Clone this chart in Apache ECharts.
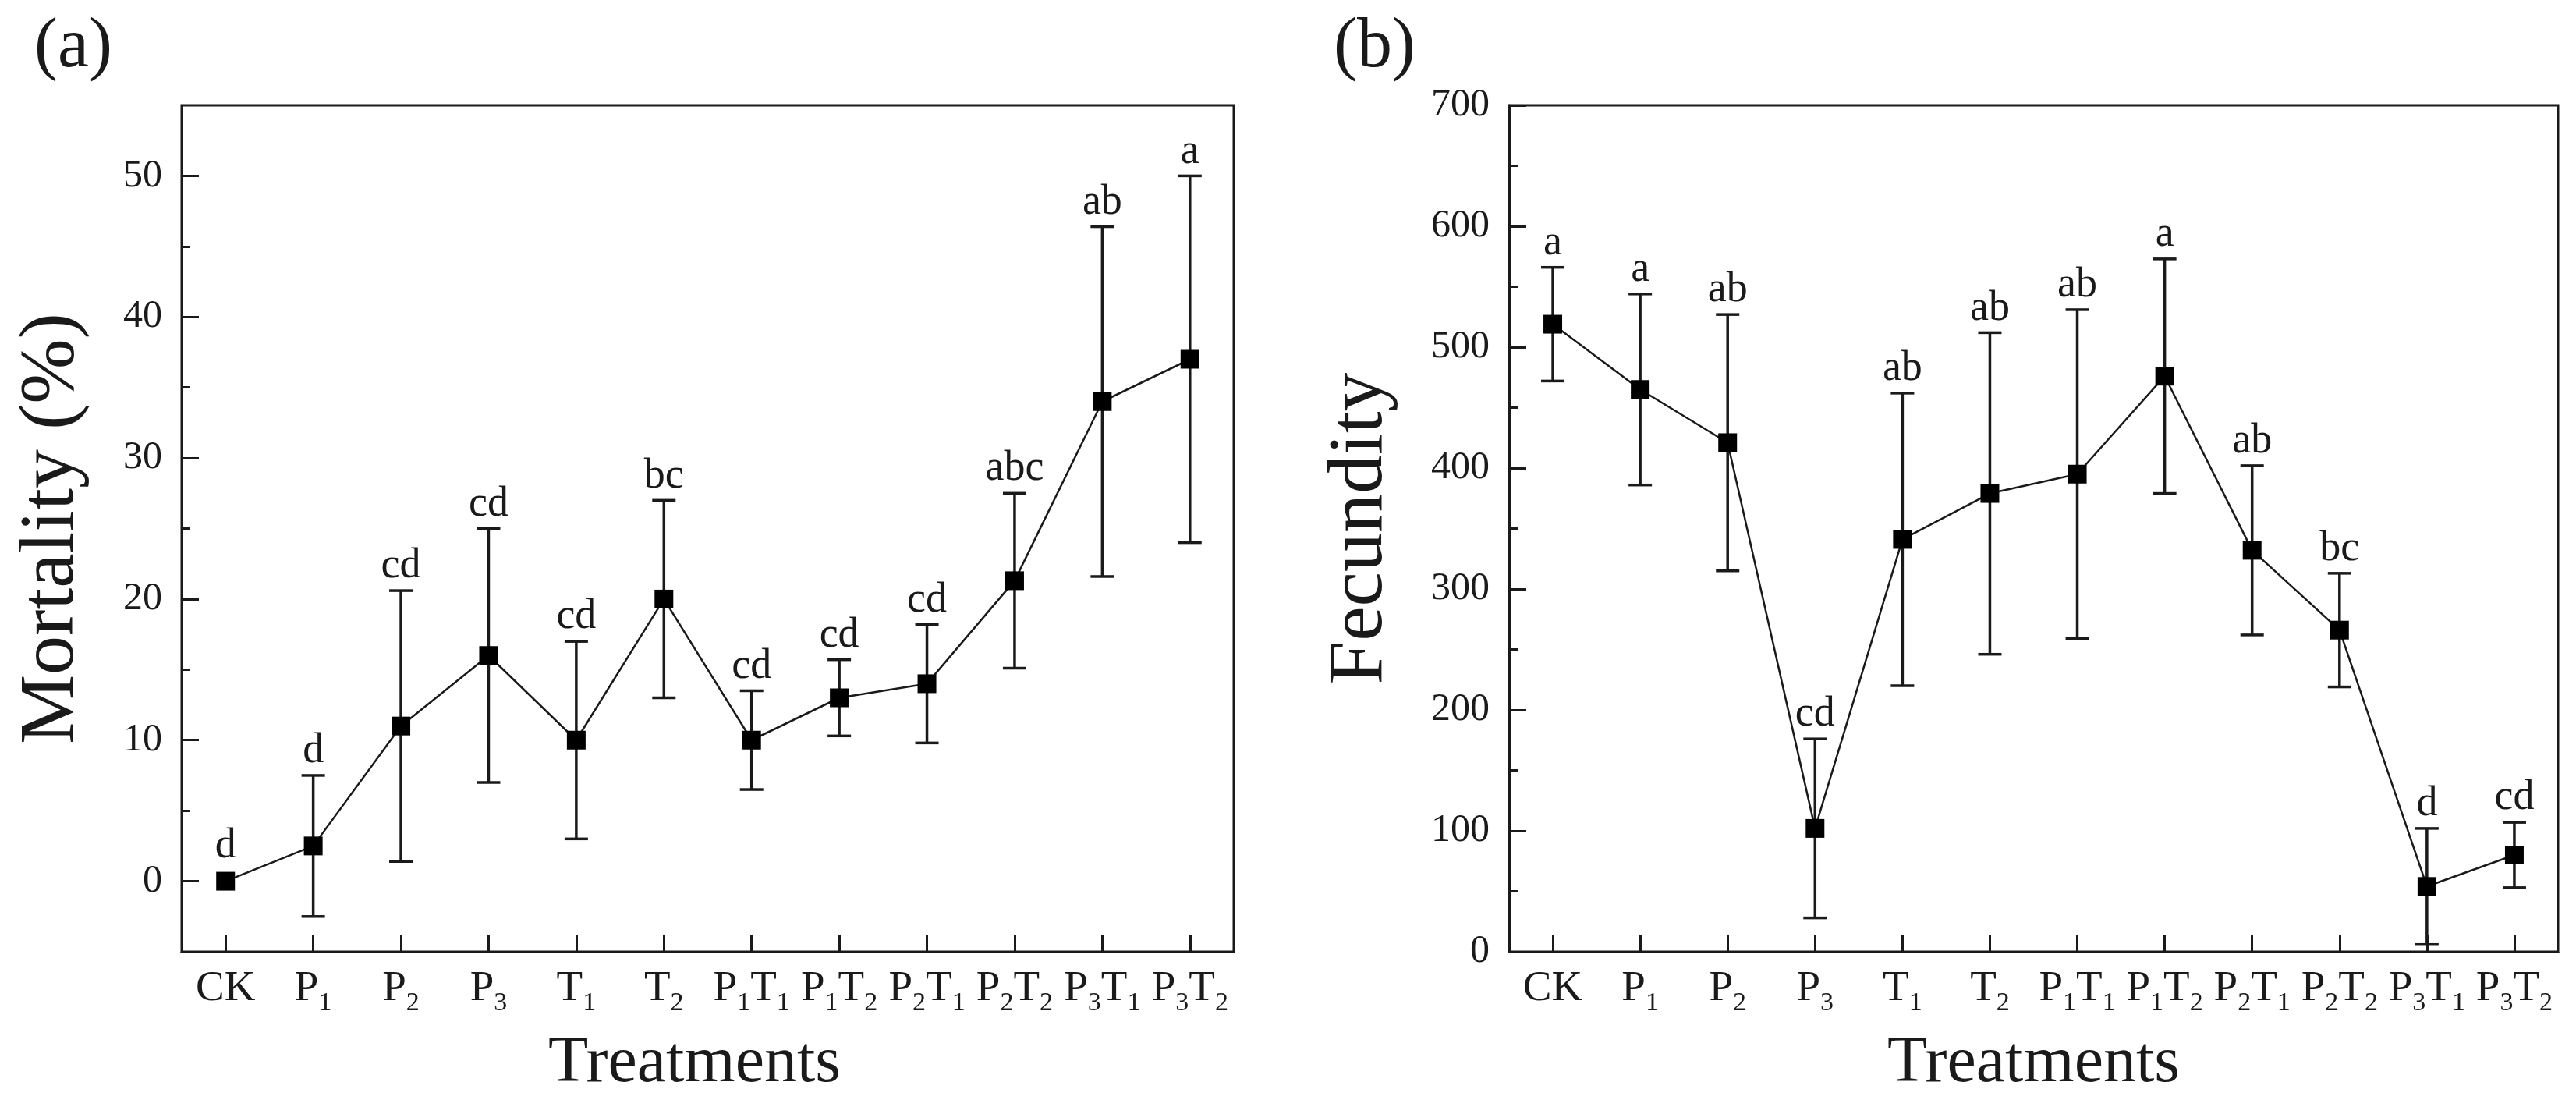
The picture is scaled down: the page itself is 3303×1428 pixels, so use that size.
<!DOCTYPE html>
<html>
<head>
<meta charset="utf-8">
<script src="https://cdn.jsdelivr.net/npm/echarts@6/dist/echarts.min.js"></script>
<style>
  html, body { margin: 0; padding: 0; background: #fff; }
  #main { width: 3303px; height: 1428px; }
</style>
</head>
<body>
<div id="main"></div>
<script>
// treatments on the x axis (digits become subscripts)
var categories = ['CK', 'P1', 'P2', 'P3', 'T1', 'T2', 'P1T1', 'P1T2', 'P2T1', 'P2T2', 'P3T1', 'P3T2'];

// (a) mortality, %
var mortality = [0, 2.5, 11, 16, 10, 20, 10, 13, 14, 21.3, 34, 37];
var mortalityErr = [0, 5, 9.6, 9, 7, 7, 3.5, 2.7, 4.2, 6.2, 12.4, 13];
var mortalityLetters = ['d', 'd', 'cd', 'cd', 'cd', 'bc', 'cd', 'cd', 'cd', 'abc', 'ab', 'a'];
var mortalityTicks = [0, 10, 20, 30, 40, 50];

// (b) fecundity
var fecundity = [519, 465, 421, 102, 341, 379, 395, 476, 332, 266, 54, 80];
var fecundityErr = [47, 79, 106, 74, 121, 133, 136, 97, 70, 47, 48, 27];
var fecundityLetters = ['a', 'a', 'ab', 'cd', 'ab', 'ab', 'ab', 'a', 'ab', 'bc', 'd', 'cd'];
var fecundityTicks = [0, 100, 200, 300, 400, 500, 600, 700];

var FONT = "'Liberation Serif', 'Times New Roman', serif";
var INK = '#1a1a1a';

var myChart = echarts.init(document.getElementById('main'));

// plot frames
var gridA = { left: 233, top: 135, width: 1349, height: 1085 };
var gridB = { left: 1935, top: 135, width: 1345, height: 1085 };
var mortRange = [-5, 55];
// extra grid over (a) that only spans the labelled ticks, so ticks start at 0
var pxPerUnit = gridA.height / (mortRange[1] - mortRange[0]);
var tickLo = mortalityTicks[0], tickHi = mortalityTicks[mortalityTicks.length - 1];
var gridATicks = {
  left: gridA.left,
  width: gridA.width,
  top: gridA.top + pxPerUnit * (mortRange[1] - tickHi),
  height: pxPerUnit * (tickHi - tickLo)
};

function catLabel(name) {
  return name.replace(/([A-Z]+)(\d)?/g, function (m, a, d) {
    return '{m|' + a + '}' + (d ? '{s|' + d + '}' : '');
  });
}

function errData(vals, errs) {
  return vals.map(function (v, i) { return [i, v - errs[i], v + errs[i], v]; });
}

function errorBars(letters) {
  return function (params, api) {
    var i = api.value(0);
    var lo = api.coord([i, api.value(1)]);
    var hi = api.coord([i, api.value(2)]);
    var mid = api.coord([i, api.value(3)]);
    var cap = 15;
    var st = { stroke: INK, lineWidth: 3.5, fill: null };
    var kids = [];
    if (api.value(2) > api.value(1)) {
      kids.push(
        { type: 'line', shape: { x1: lo[0], y1: lo[1], x2: hi[0], y2: hi[1] }, style: st },
        { type: 'line', shape: { x1: lo[0] - cap, y1: lo[1], x2: lo[0] + cap, y2: lo[1] }, style: st },
        { type: 'line', shape: { x1: hi[0] - cap, y1: hi[1], x2: hi[0] + cap, y2: hi[1] }, style: st }
      );
    }
    var top = Math.min(hi[1], mid[1] - 14);
    kids.push({
      type: 'text', x: hi[0], y: top - 4,
      style: {
        text: letters[params.dataIndex], fontSize: 54, fontFamily: FONT, fill: INK,
        align: 'center', verticalAlign: 'bottom'
      }
    });
    return { type: 'group', children: kids };
  };
}

function catAxis(gridIndex, namePad) {
  return {
    type: 'category',
    gridIndex: gridIndex,
    data: categories,
    boundaryGap: true,
    axisLine: { show: true, onZero: false, lineStyle: { color: INK, width: 3 } },
    axisTick: { show: true, inside: true, alignWithLabel: true, length: 21, lineStyle: { color: INK, width: 3 } },
    axisLabel: {
      interval: 0,
      margin: 13,
      color: INK,
      formatter: catLabel,
      rich: {
        m: { fontFamily: FONT, fontSize: 55, lineHeight: 70, color: INK },
        s: { fontFamily: FONT, fontSize: 34, lineHeight: 30, padding: [36, 0, 0, 0], color: INK }
      }
    },
    splitLine: { show: false },
    name: 'Treatments',
    nameLocation: 'middle',
    nameGap: 102,
    nameTextStyle: { fontFamily: FONT, fontSize: 84, color: INK, padding: [0, namePad, 0, 0] }
  };
}

var tickLabel = { margin: 25, color: INK, fontFamily: FONT, fontSize: 50 };
var majorTick = { show: true, inside: true, length: 22, lineStyle: { color: INK, width: 3 } };
var minorTick = { show: true, splitNumber: 2, length: 11, lineStyle: { color: INK, width: 3 } };

option = {
  backgroundColor: '#fff',
  animation: false,
  graphic: [
    { type: 'text', left: 44, top: 16, style: { text: '(a)', fontSize: 90, fontFamily: FONT, fill: INK } },
    { type: 'text', left: 1710, top: 16, style: { text: '(b)', fontSize: 90, fontFamily: FONT, fill: INK } }
  ],
  grid: [
    { left: gridA.left, top: gridA.top, width: gridA.width, height: gridA.height, show: true, borderColor: INK, borderWidth: 3, containLabel: false },
    { left: gridB.left, top: gridB.top, width: gridB.width, height: gridB.height, show: true, borderColor: INK, borderWidth: 3, containLabel: false },
    { left: gridATicks.left, top: gridATicks.top, width: gridATicks.width, height: gridATicks.height, show: false }
  ],
  xAxis: [
    catAxis(0, 34),
    catAxis(1, 0),
    { type: 'value', gridIndex: 2, show: false }
  ],
  yAxis: [
    {
      type: 'value', gridIndex: 0, min: mortRange[0], max: mortRange[1],
      axisLine: { show: true, lineStyle: { color: INK, width: 3 } },
      axisTick: { show: false }, axisLabel: { show: false }, splitLine: { show: false },
      name: 'Mortality (%)', nameLocation: 'middle', nameGap: 116,
      nameTextStyle: { fontFamily: FONT, fontSize: 100, color: INK }
    },
    {
      type: 'value', gridIndex: 1,
      min: fecundityTicks[0], max: fecundityTicks[fecundityTicks.length - 1],
      interval: fecundityTicks[1] - fecundityTicks[0],
      axisLine: { show: true, lineStyle: { color: INK, width: 3 } },
      axisTick: majorTick, minorTick: minorTick, axisLabel: tickLabel, splitLine: { show: false },
      name: 'Fecundity', nameLocation: 'middle', nameGap: 140,
      nameTextStyle: { fontFamily: FONT, fontSize: 100, color: INK }
    },
    {
      type: 'value', gridIndex: 2, min: tickLo, max: tickHi,
      interval: mortalityTicks[1] - mortalityTicks[0],
      axisLine: { show: false },
      axisTick: majorTick, minorTick: minorTick, axisLabel: tickLabel, splitLine: { show: false }
    }
  ],
  series: [
    {
      name: 'Mortality SE', type: 'custom', xAxisIndex: 0, yAxisIndex: 0, z: 2, silent: true,
      renderItem: errorBars(mortalityLetters),
      data: errData(mortality, mortalityErr)
    },
    {
      name: 'Mortality', type: 'line', xAxisIndex: 0, yAxisIndex: 0, z: 3,
      data: mortality, symbol: 'rect', symbolSize: 24,
      itemStyle: { color: '#000' }, lineStyle: { color: INK, width: 2.5 }
    },
    {
      name: 'Fecundity SE', type: 'custom', xAxisIndex: 1, yAxisIndex: 1, z: 2, silent: true,
      renderItem: errorBars(fecundityLetters),
      data: errData(fecundity, fecundityErr)
    },
    {
      name: 'Fecundity', type: 'line', xAxisIndex: 1, yAxisIndex: 1, z: 3,
      data: fecundity, symbol: 'rect', symbolSize: 24,
      itemStyle: { color: '#000' }, lineStyle: { color: INK, width: 2.5 }
    }
  ]
};

option && myChart.setOption(option);
</script>
</body>
</html>
